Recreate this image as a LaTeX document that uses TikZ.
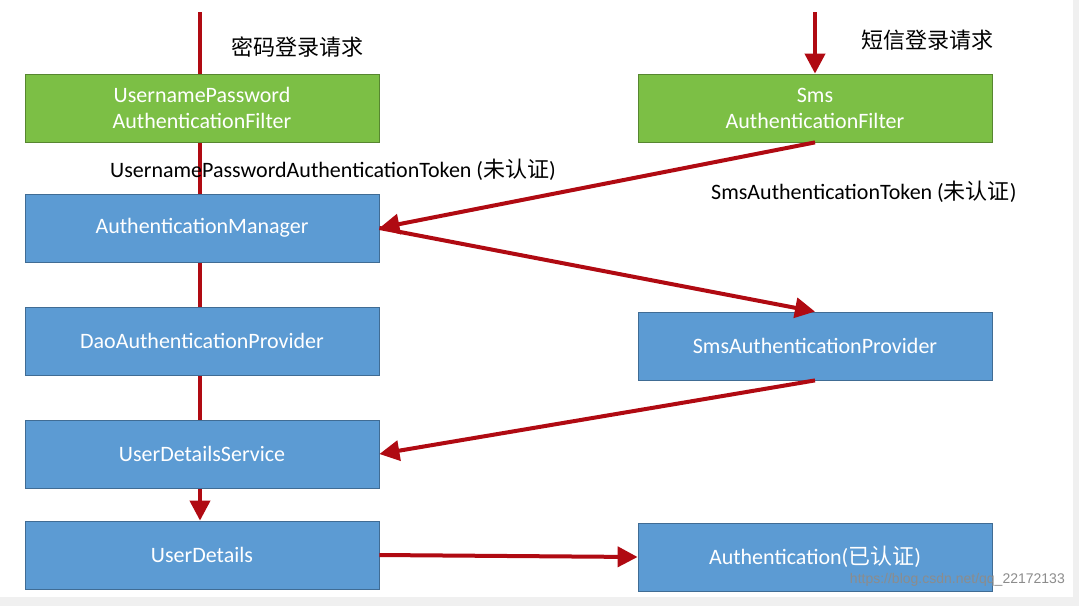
\documentclass[tikz,border=0pt]{standalone}
\usepackage{fontspec}
\setmainfont{Carlito}
\newfontfamily\cjk{Noto Sans CJK SC}
\begin{document}
\begin{tikzpicture}[x=1pt,y=-1pt,
  box/.style={draw=#1!70!black,fill=#1,minimum width=354pt,minimum height=68pt,text=white,font=\fontsize{22}{26}\selectfont,align=center,inner sep=0pt,line width=0.8pt},
  red/.style={draw=arrred,line width=4pt,-{Triangle[length=20pt,width=20pt]}},
  lbl/.style={font=\fontsize{22}{26}\selectfont,text=black,inner sep=0pt}]
\usetikzlibrary{arrows.meta}
\definecolor{gbox}{HTML}{7CBF45}
\definecolor{bbox}{HTML}{5C9BD3}
\definecolor{arrred}{HTML}{B00A12}
\fill[black!6] (0,0) rectangle (1079,606);
\fill[white] (0,0) rectangle (1073,597);
\useasboundingbox (0,0) rectangle (1079,606);
\coordinate (ltop) at (200,12);
\coordinate (rtop) at (815,12);
\node[box=bbox] (ud) at (202,555) {UserDetails};
\draw[red] (ltop) -- (ud.north -| ltop);
\node[box=gbox] (upf) at (202,108) {UsernamePassword\\AuthenticationFilter};
\node[box=gbox] (smsf) at (815,108) {Sms\\AuthenticationFilter};
\node[box=bbox] (am) at (202,228) {AuthenticationManager};
\node[box=bbox] (dao) at (202,341) {DaoAuthenticationProvider};
\node[box=bbox] (smsp) at (815,346) {SmsAuthenticationProvider};
\node[box=bbox] (uds) at (202,454) {UserDetailsService};
\node[box=bbox] (auth) at (815,557) {Authentication({\cjk 已认证})};
\draw[red] (rtop) -- (smsf.north -| rtop);
\draw[red] (smsf.south) -- (am.east);
\draw[red] (am.east) -- (smsp.north);
\draw[red] (smsp.south) -- (uds.east);
\draw[red] (ud.east) -- (auth.west);
\node[lbl] (l1) at (297,47) {\cjk 密码登录请求};
\node[lbl] (l2) at (927,40) {\cjk 短信登录请求};
\node[lbl] (l3) at (333,170) {UsernamePasswordAuthenticationToken ({\cjk 未认证})};
\node[lbl,anchor=west] (l4) at (711,192) {SmsAuthenticationToken ({\cjk 未认证})};
\node[anchor=east,inner sep=0pt,text=black!45,font=\fontsize{14}{16}\selectfont\fontspec{Liberation Sans}] (wm) at (1065,580) {https://blog.csdn.net/qq\_22172133};
\end{tikzpicture}
\end{document}
